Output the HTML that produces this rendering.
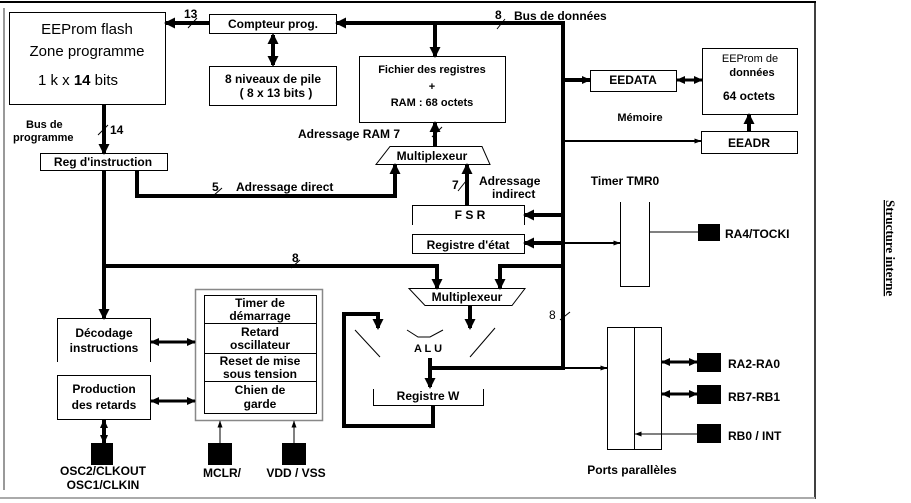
<!DOCTYPE html>
<html><head><meta charset="utf-8"><style>
html,body{margin:0;padding:0;background:#fff}
svg{display:block}
text{font-family:"Liberation Sans",sans-serif;font-weight:bold;fill:#000}
</style></head><body>
<svg width="911" height="503" viewBox="0 0 911 503" xmlns="http://www.w3.org/2000/svg">
<defs>
<marker id="a" markerWidth="11" markerHeight="11" refX="9" refY="5.5" orient="auto-start-reverse" markerUnits="userSpaceOnUse"><path d="M0,0L11,5.5L0,11z" fill="#000"/></marker>
<marker id="m" markerWidth="9" markerHeight="8" refX="8" refY="4" orient="auto-start-reverse" markerUnits="userSpaceOnUse"><path d="M0,0L9,4L0,8z" fill="#000"/></marker>
<marker id="s" markerWidth="7" markerHeight="5" refX="6.5" refY="2.5" orient="auto-start-reverse" markerUnits="userSpaceOnUse"><path d="M0,0L7,2.5L0,5z" fill="#000"/></marker>
</defs>
<!-- frame -->
<line x1="0" y1="2" x2="816" y2="2" stroke="#000" stroke-width="2"/>
<line x1="815" y1="2" x2="815" y2="499" stroke="#000" stroke-width="1.5"/>
<line x1="4" y1="8" x2="4" y2="490" stroke="#999" stroke-width="2"/>
<line x1="0" y1="498" x2="815" y2="498" stroke="#aaa" stroke-width="2"/>

<g fill="none" stroke="#000" stroke-width="1">
<rect x="9.5" y="12.5" width="156" height="92"/>
<rect x="209.5" y="14.5" width="127" height="19"/>
<rect x="209.5" y="66.5" width="127" height="39"/>
<rect x="359.5" y="56.5" width="146" height="66"/>
<rect x="40.5" y="153.5" width="127" height="17"/>
<path d="M412.5,225V205.5H524.5V225"/>
<rect x="412.5" y="234.5" width="112" height="19"/>
<rect x="590.5" y="70.5" width="86" height="21"/>
<rect x="702.5" y="48.5" width="95" height="66"/>
<rect x="701.5" y="131.5" width="96" height="22"/>
<path d="M620.5,202V286.5H649.5V202"/>
<rect x="607.5" y="327.5" width="54" height="122"/>
<line x1="634.5" y1="327" x2="634.5" y2="449"/>
<path d="M57.5,362V318.5H150.5V362"/>
<rect x="57.5" y="375.5" width="93" height="44"/>
<rect x="195.5" y="289.5" width="127" height="131" stroke="#888" stroke-width="1.5"/>
<rect x="204.5" y="295.5" width="112" height="118"/>
<line x1="204" y1="323.5" x2="317" y2="323.5"/>
<line x1="204" y1="353.5" x2="317" y2="353.5"/>
<line x1="204" y1="381.5" x2="317" y2="381.5"/>
<path d="M373.5,389V405.5H483.5V389"/>
<path d="M376,164.5H490L482,146.5H390Z"/>
<path d="M409,288.5H525L512,305.5H425Z"/>
<line x1="355" y1="330" x2="380" y2="357"/>
<line x1="495" y1="328" x2="470" y2="357"/>
<path d="M407,330L418,337H430L443,330"/>
<line x1="188" y1="28" x2="197" y2="18"/>
<line x1="98" y1="135" x2="108" y2="125"/>
<line x1="213" y1="196" x2="222" y2="188"/>
<line x1="432" y1="137" x2="442" y2="127"/>
<line x1="458" y1="191" x2="466" y2="181"/>
<line x1="497" y1="29" x2="505" y2="19"/>
<line x1="291" y1="268" x2="300" y2="260"/>
<line x1="560" y1="320" x2="570" y2="312"/>
</g>

<g fill="none" stroke="#000" stroke-width="4">
<line x1="209" y1="23" x2="166" y2="23" marker-end="url(#a)"/>
<line x1="563" y1="23" x2="337" y2="23" marker-end="url(#a)"/>
<line x1="273" y1="35" x2="273" y2="65" marker-start="url(#a)" marker-end="url(#a)"/>
<line x1="435" y1="23" x2="435" y2="56" marker-end="url(#a)"/>
<line x1="435" y1="146" x2="435" y2="123" marker-end="url(#a)"/>
<line x1="104" y1="104" x2="104" y2="153" marker-end="url(#a)"/>
<path d="M137,170V196H395V165" marker-end="url(#a)"/>
<line x1="467" y1="205" x2="467" y2="165" marker-end="url(#a)"/>
<line x1="104" y1="170" x2="104" y2="318" marker-end="url(#a)"/>
<path d="M104,266H437V288" marker-end="url(#a)"/>
<path d="M563,266H500V288" marker-end="url(#a)"/>
<line x1="563" y1="21" x2="563" y2="370"/>
<line x1="563" y1="215" x2="525" y2="215" marker-end="url(#a)"/>
<line x1="563" y1="243" x2="525" y2="243" marker-end="url(#a)"/>
<line x1="563" y1="80" x2="590" y2="80" marker-end="url(#m)"/>
<line x1="677" y1="80" x2="702" y2="80" marker-start="url(#m)" marker-end="url(#m)" stroke-width="3"/>
<line x1="749" y1="131" x2="749" y2="115" marker-end="url(#a)"/>
<line x1="470" y1="305" x2="470" y2="328" marker-end="url(#a)"/>
<path d="M433,405V426H344V314H378V328" marker-end="url(#a)"/>
<line x1="430" y1="358" x2="430" y2="387" marker-end="url(#a)"/>
<line x1="430" y1="368" x2="563" y2="368"/>
<line x1="151" y1="342" x2="195" y2="342" marker-start="url(#m)" marker-end="url(#m)" stroke-width="3"/>
<line x1="151" y1="401" x2="195" y2="401" marker-start="url(#m)" marker-end="url(#m)" stroke-width="3"/>
<line x1="104" y1="420" x2="104" y2="443" marker-start="url(#m)" marker-end="url(#m)"/>
<line x1="662" y1="362" x2="697" y2="362" marker-start="url(#m)" marker-end="url(#m)" stroke-width="3"/>
<line x1="662" y1="394" x2="697" y2="394" marker-start="url(#m)" marker-end="url(#m)" stroke-width="3"/>
</g>
<g fill="none" stroke="#000" stroke-width="2">
<line x1="563" y1="141" x2="701" y2="141" marker-end="url(#s)"/>
<line x1="563" y1="243" x2="620" y2="243" marker-end="url(#s)"/>
<line x1="563" y1="368" x2="607" y2="368" marker-end="url(#s)"/>
</g>
<g fill="none" stroke="#000" stroke-width="1">
<line x1="649" y1="232" x2="698" y2="232"/>
<line x1="697" y1="434" x2="635" y2="434" marker-end="url(#s)"/>
<line x1="220" y1="443" x2="220" y2="421" marker-end="url(#s)"/>
<line x1="294" y1="443" x2="294" y2="421" marker-end="url(#s)"/>
</g>
<g fill="#000">
<rect x="91" y="443" width="22" height="22"/>
<rect x="208" y="443" width="24" height="22"/>
<rect x="282" y="443" width="24" height="22"/>
<rect x="698" y="224" width="22" height="17"/>
<rect x="697" y="353" width="24" height="19"/>
<rect x="697" y="385" width="24" height="19"/>
<rect x="697" y="424" width="24" height="19"/>
</g>

<g font-size="12">
<text x="87" y="34" text-anchor="middle" font-size="15" style="font-weight:normal">EEProm flash</text>
<text x="87" y="56" text-anchor="middle" font-size="15" style="font-weight:normal">Zone programme</text>
<text x="78" y="85" text-anchor="middle" font-size="15" style="font-weight:normal">1 k  x <tspan style="font-weight:bold">14</tspan> bits</text>
<text x="273" y="28" text-anchor="middle">Compteur prog.</text>
<text x="184" y="18">13</text>
<text x="273" y="83" text-anchor="middle">8 niveaux de pile</text>
<text x="276" y="97" text-anchor="middle">( 8 x 13 bits )</text>
<text x="432" y="73" text-anchor="middle" font-size="11">Fichier des registres</text>
<text x="432" y="90" text-anchor="middle" font-size="11">+</text>
<text x="432" y="106" text-anchor="middle" font-size="11">RAM : 68 octets</text>
<text x="103" y="166" text-anchor="middle">Reg d'instruction</text>
<text x="26" y="128" font-size="11">Bus de</text>
<text x="13" y="141" font-size="11">programme</text>
<text x="110" y="134">14</text>
<text x="298" y="138">Adressage RAM 7</text>
<text x="432" y="160" text-anchor="middle">Multiplexeur</text>
<text x="212" y="191">5</text>
<text x="236" y="191">Adressage direct</text>
<text x="452" y="189">7</text>
<text x="479" y="185">Adressage</text>
<text x="492" y="198">indirect</text>
<text x="470" y="219" text-anchor="middle">F S R</text>
<text x="468" y="249" text-anchor="middle">Registre d'état</text>
<text x="495" y="19">8</text>
<text x="514" y="20">Bus de données</text>
<text x="633" y="84" text-anchor="middle">EEDATA</text>
<text x="750" y="62" text-anchor="middle" font-size="11" style="font-weight:normal">EEProm de</text>
<text x="752" y="76" text-anchor="middle" font-size="11">données</text>
<text x="749" y="100" text-anchor="middle">64 octets</text>
<text x="640" y="121" text-anchor="middle" font-size="11">Mémoire</text>
<text x="749" y="147" text-anchor="middle">EEADR</text>
<text x="625" y="185" text-anchor="middle">Timer TMR0</text>
<text x="725" y="238">RA4/TOCKI</text>
<text x="292" y="262">8</text>
<text x="467" y="301" text-anchor="middle">Multiplexeur</text>
<text x="428" y="352" text-anchor="middle" font-size="11">A L U</text>
<text x="549" y="319" style="font-weight:normal">8</text>
<text x="428" y="400" text-anchor="middle">Registre W</text>
<text x="728" y="368">RA2-RA0</text>
<text x="728" y="401">RB7-RB1</text>
<text x="728" y="440">RB0 / INT</text>
<text x="632" y="474" text-anchor="middle">Ports parallèles</text>
<text x="104" y="337" text-anchor="middle">Décodage</text>
<text x="104" y="352" text-anchor="middle">instructions</text>
<text x="104" y="393" text-anchor="middle">Production</text>
<text x="104" y="409" text-anchor="middle">des retards</text>
<text x="260" y="307" text-anchor="middle">Timer de</text>
<text x="260" y="320" text-anchor="middle">démarrage</text>
<text x="260" y="336" text-anchor="middle">Retard</text>
<text x="260" y="349" text-anchor="middle">oscillateur</text>
<text x="260" y="365" text-anchor="middle">Reset de mise</text>
<text x="260" y="378" text-anchor="middle">sous tension</text>
<text x="260" y="394" text-anchor="middle">Chien de</text>
<text x="260" y="408" text-anchor="middle">garde</text>
<text x="103" y="475" text-anchor="middle">OSC2/CLKOUT</text>
<text x="103" y="489" text-anchor="middle">OSC1/CLKIN</text>
<text x="222" y="477" text-anchor="middle">MCLR/</text>
<text x="296" y="477" text-anchor="middle">VDD / VSS</text>
</g>
<text transform="translate(886,200) rotate(90)" font-size="13" text-decoration="underline" style="font-family:'Liberation Serif',serif">Structure interne</text>
</svg>
</body></html>
